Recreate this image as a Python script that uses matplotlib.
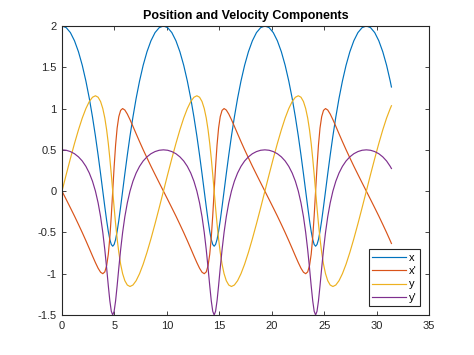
import matplotlib
matplotlib.use('Agg')
import matplotlib.pyplot as plt

plt.rcParams['font.family'] = ['Liberation Sans', 'DejaVu Sans']
plt.rcParams['axes.unicode_minus'] = False

# time samples (denser where curves turn sharply)
t = [0.000, 0.402, 0.801, 1.191, 1.570, 1.933, 2.279, 2.604, 2.908, 3.188,
     3.445, 3.679, 3.891, 4.083, 4.257, 4.416, 4.563, 4.702, 4.837, 4.972,
     5.111, 5.258, 5.417, 5.591, 5.782, 5.994, 6.228, 6.485, 6.766, 7.069,
     7.395, 7.740, 8.104, 8.483, 8.873, 9.271, 9.674,
     10.076, 10.474, 10.865, 11.243, 11.607, 11.953, 12.278, 12.581, 12.862,
     13.119, 13.353, 13.565, 13.757, 13.930, 14.089, 14.236, 14.375, 14.510,
     14.645, 14.785, 14.932, 15.090, 15.264, 15.456, 15.668, 15.902, 16.159,
     16.439, 16.743, 17.068, 17.414, 17.778, 18.156, 18.546, 18.945, 19.347,
     19.750, 20.148, 20.538, 20.917, 21.280, 21.626, 21.952, 22.255, 22.535,
     22.792, 23.026, 23.238, 23.430, 23.604, 23.763, 23.910, 24.049, 24.184,
     24.319, 24.458, 24.605, 24.764, 24.938, 25.130, 25.342, 25.576, 25.833,
     26.113, 26.416, 26.742, 27.088, 27.451, 27.830, 28.220, 28.618, 29.021,
     29.423, 29.822, 30.212, 30.590, 30.954, 31.300, 31.416]

x = [2.000, 1.980, 1.920, 1.821, 1.688, 1.524, 1.333, 1.123, 0.898, 0.667,
     0.435, 0.211, 0.000, -0.190, -0.355, -0.488, -0.586, -0.646, -0.667, -0.646,
     -0.586, -0.488, -0.355, -0.190, 0.000, 0.211, 0.435, 0.667, 0.898, 1.123,
     1.333, 1.524, 1.688, 1.821, 1.920, 1.980, 2.000,
     1.980, 1.920, 1.821, 1.688, 1.524, 1.333, 1.123, 0.898, 0.667,
     0.435, 0.211, 0.000, -0.190, -0.355, -0.488, -0.586, -0.646, -0.667, -0.646,
     -0.586, -0.488, -0.355, -0.190, 0.000, 0.211, 0.435, 0.667, 0.898, 1.123,
     1.333, 1.524, 1.688, 1.821, 1.920, 1.980, 2.000,
     1.980, 1.920, 1.821, 1.688, 1.524, 1.333, 1.123, 0.898, 0.667,
     0.435, 0.211, 0.000, -0.190, -0.355, -0.488, -0.586, -0.646, -0.667, -0.646,
     -0.586, -0.488, -0.355, -0.190, 0.000, 0.211, 0.435, 0.667, 0.898, 1.123,
     1.333, 1.524, 1.688, 1.821, 1.920, 1.980, 2.000,
     1.980, 1.920, 1.821, 1.688, 1.524, 1.333, 1.261]

xd = [0.000, -0.101, -0.202, -0.302, -0.403, -0.502, -0.600, -0.695, -0.785, -0.866,
      -0.934, -0.982, -1.000, -0.978, -0.902, -0.764, -0.559, -0.296, 0.000, 0.296,
      0.559, 0.764, 0.902, 0.978, 1.000, 0.982, 0.934, 0.866, 0.785, 0.695,
      0.600, 0.502, 0.403, 0.302, 0.202, 0.101, 0.000,
      -0.101, -0.202, -0.302, -0.403, -0.502, -0.600, -0.695, -0.785, -0.866,
      -0.934, -0.982, -1.000, -0.978, -0.902, -0.764, -0.559, -0.296, 0.000, 0.296,
      0.559, 0.764, 0.902, 0.978, 1.000, 0.982, 0.934, 0.866, 0.785, 0.695,
      0.600, 0.502, 0.403, 0.302, 0.202, 0.101, 0.000,
      -0.101, -0.202, -0.302, -0.403, -0.502, -0.600, -0.695, -0.785, -0.866,
      -0.934, -0.982, -1.000, -0.978, -0.902, -0.764, -0.559, -0.296, 0.000, 0.296,
      0.559, 0.764, 0.902, 0.978, 1.000, 0.982, 0.934, 0.866, 0.785, 0.695,
      0.600, 0.502, 0.403, 0.302, 0.202, 0.101, 0.000,
      -0.101, -0.202, -0.302, -0.403, -0.502, -0.600, -0.634]

y = [0.000, 0.201, 0.395, 0.577, 0.742, 0.885, 1.000, 1.085, 1.137, 1.155,
     1.137, 1.085, 1.000, 0.885, 0.742, 0.577, 0.395, 0.201, 0.000, -0.201,
     -0.395, -0.577, -0.742, -0.885, -1.000, -1.085, -1.137, -1.155, -1.137, -1.085,
     -1.000, -0.885, -0.742, -0.577, -0.395, -0.201, 0.000,
     0.201, 0.395, 0.577, 0.742, 0.885, 1.000, 1.085, 1.137, 1.155,
     1.137, 1.085, 1.000, 0.885, 0.742, 0.577, 0.395, 0.201, 0.000, -0.201,
     -0.395, -0.577, -0.742, -0.885, -1.000, -1.085, -1.137, -1.155, -1.137, -1.085,
     -1.000, -0.885, -0.742, -0.577, -0.395, -0.201, 0.000,
     0.201, 0.395, 0.577, 0.742, 0.885, 1.000, 1.085, 1.137, 1.155,
     1.137, 1.085, 1.000, 0.885, 0.742, 0.577, 0.395, 0.201, 0.000, -0.201,
     -0.395, -0.577, -0.742, -0.885, -1.000, -1.085, -1.137, -1.155, -1.137, -1.085,
     -1.000, -0.885, -0.742, -0.577, -0.395, -0.201, 0.000,
     0.201, 0.395, 0.577, 0.742, 0.885, 1.000, 1.034]

yd = [0.500, 0.495, 0.479, 0.453, 0.415, 0.365, 0.300, 0.219, 0.120, 0.000,
      -0.143, -0.309, -0.500, -0.710, -0.931, -1.146, -1.329, -1.455, -1.500, -1.455,
      -1.329, -1.146, -0.931, -0.710, -0.500, -0.309, -0.143, 0.000, 0.120, 0.219,
      0.300, 0.365, 0.415, 0.453, 0.479, 0.495, 0.500,
      0.495, 0.479, 0.453, 0.415, 0.365, 0.300, 0.219, 0.120, 0.000,
      -0.143, -0.309, -0.500, -0.710, -0.931, -1.146, -1.329, -1.455, -1.500, -1.455,
      -1.329, -1.146, -0.931, -0.710, -0.500, -0.309, -0.143, 0.000, 0.120, 0.219,
      0.300, 0.365, 0.415, 0.453, 0.479, 0.495, 0.500,
      0.495, 0.479, 0.453, 0.415, 0.365, 0.300, 0.219, 0.120, 0.000,
      -0.143, -0.309, -0.500, -0.710, -0.931, -1.146, -1.329, -1.455, -1.500, -1.455,
      -1.329, -1.146, -0.931, -0.710, -0.500, -0.309, -0.143, 0.000, 0.120, 0.219,
      0.300, 0.365, 0.415, 0.453, 0.479, 0.495, 0.500,
      0.495, 0.479, 0.453, 0.415, 0.365, 0.300, 0.274]

labels = ['x', "x'", 'y', "y'"]
colors = ['#0072BD', '#D95319', '#EDB120', '#7E2F8E']

fig = plt.figure(figsize=(4.74, 3.55), dpi=100)
ax = fig.add_axes([0.1308, 0.1127, 0.7743, 0.8141])

for s, lab, c in zip([x, xd, y, yd], labels, colors):
    ax.plot(t, s, color=c, lw=0.85, label=lab)

ax.set_xlim(0, 35)
ax.set_ylim(-1.5, 2)
ax.set_xticks([0, 5, 10, 15, 20, 25, 30, 35])
ax.set_yticks([-1.5, -1, -0.5, 0, 0.5, 1, 1.5, 2])
ax.set_yticklabels(['-1.5', '-1', '-0.5', '0', '0.5', '1', '1.5', '2'])

axc = '#262626'
for sp in ax.spines.values():
    sp.set_color(axc)
    sp.set_linewidth(0.8)
ax.tick_params(direction='in', top=True, right=True, length=3, width=0.6,
               colors=axc, labelsize=8, pad=4)
ax.set_title('Position and Velocity Components', fontsize=9, fontweight='bold',
             color='black', pad=5)

leg = ax.legend(loc='lower right', fontsize=8, handlelength=3.0, handletextpad=0.3,
                labelspacing=0.3, borderpad=0.3, fancybox=False, framealpha=1,
                borderaxespad=0.8)
leg.get_frame().set_edgecolor(axc)
leg.get_frame().set_linewidth(0.8)

fig.savefig('out.png', dpi=100)
